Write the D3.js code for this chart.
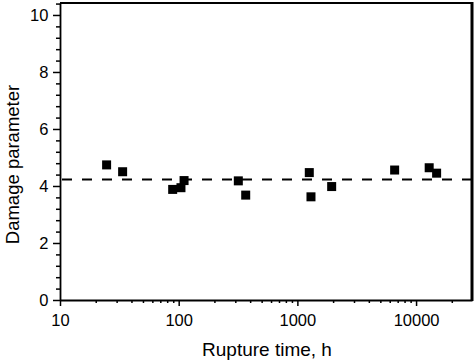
<!DOCTYPE html>
<html><head><meta charset="utf-8">
<script src="https://cdn.jsdelivr.net/npm/d3@7"></script>
<style>
body{margin:0;background:#fff;}
svg{display:block;font-family:"Liberation Sans",Arial,Helvetica,sans-serif;}
</style></head>
<body><svg id="chart" width="474" height="361"></svg>
<script>
// Data
const ruptureTime = [24.7, 33.7, 89, 104.5, 111, 318, 367, 1260, 1302, 1945, 6600, 12900, 14900];
const damage      = [4.74, 4.50, 3.88, 3.94, 4.19, 4.18, 3.68, 4.47, 3.62, 3.98, 4.56, 4.64, 4.45];
const meanDamage  = 4.23;
const xTicks = [10, 100, 1000, 10000];
const yTicks = [0, 2, 4, 6, 8, 10];

const svg = d3.select("#chart");
const m = {left:60, right:472, top:3, bottom:300};
const x = d3.scaleLog().domain([10, 29600]).range([m.left, m.right]);
const y = d3.scaleLinear().domain([0, 10.42]).range([m.bottom, m.top]);

// minor ticks
const xMinor = [];
for (let d = 10; d <= 10000; d *= 10) for (let k = 2; k <= 9; k++) if (d*k <= 29600) xMinor.push(d*k);
const yMinor = d3.range(0, 10.41, 0.4).map(v => +v.toFixed(2)).filter(v => !yTicks.includes(v));

const g = svg.append("g");
// X axis
const xAxis = g.append("g").attr("transform", `translate(0,${m.bottom})`)
  .call(d3.axisBottom(x).tickValues(xTicks).tickFormat(d3.format("d")).tickSize(6).tickSizeOuter(0));
g.append("g").attr("transform", `translate(0,${m.bottom})`)
  .call(d3.axisBottom(x).tickValues(xMinor).tickFormat("").tickSize(3).tickSizeOuter(0))
  .select(".domain").remove();
// Y axis
const yAxis = g.append("g").attr("transform", `translate(${m.left},0)`)
  .call(d3.axisLeft(y).tickValues(yTicks).tickSize(7).tickSizeOuter(0));
g.append("g").attr("transform", `translate(${m.left},0)`)
  .call(d3.axisLeft(y).tickValues(yMinor).tickFormat("").tickSize(4).tickSizeOuter(0))
  .select(".domain").remove();

svg.selectAll(".tick line").attr("stroke", "#000").attr("stroke-width", 1.5);
svg.selectAll(".domain").attr("stroke", "#000").attr("stroke-width", 1.8);
svg.selectAll(".tick text").attr("font-size", 16.5).attr("fill", "#000")
  .attr("font-family", "'Liberation Sans',Arial,sans-serif");
xAxis.selectAll(".tick text").attr("dy", "1.0em");
yAxis.selectAll(".tick text").attr("dx", "-0.1em");

// frame top & right
g.append("line").attr("x1", m.left).attr("x2", m.right).attr("y1", m.top).attr("y2", m.top)
  .attr("stroke", "#000").attr("stroke-width", 1.8);
g.append("line").attr("x1", m.right).attr("x2", m.right).attr("y1", m.top - 0.9).attr("y2", m.bottom + 1)
  .attr("stroke", "#000").attr("stroke-width", 3);

// dashed mean line
g.append("line").attr("x1", m.left).attr("x2", m.right)
  .attr("y1", y(meanDamage)).attr("y2", y(meanDamage))
  .attr("stroke", "#000").attr("stroke-width", 2).attr("stroke-dasharray", "10,10")
  .attr("stroke-dashoffset", -2);

// points
const s = 9;
g.selectAll("rect.pt").data(ruptureTime).join("rect").attr("class", "pt")
  .attr("x", (d) => x(d) - s/2)
  .attr("y", (d, i) => y(damage[i]) - s/2)
  .attr("width", s).attr("height", s).attr("fill", "#000");

// titles
svg.append("text").attr("x", (m.left + m.right)/2 + 1).attr("y", 356)
  .attr("text-anchor", "middle").attr("font-size", 19).text("Rupture time, h");
svg.append("text").attr("transform", `translate(19,${(m.top+m.bottom)/2 + 13}) rotate(-90)`)
  .attr("text-anchor", "middle").attr("font-size", 18.5).text("Damage parameter");
</script></body></html>
